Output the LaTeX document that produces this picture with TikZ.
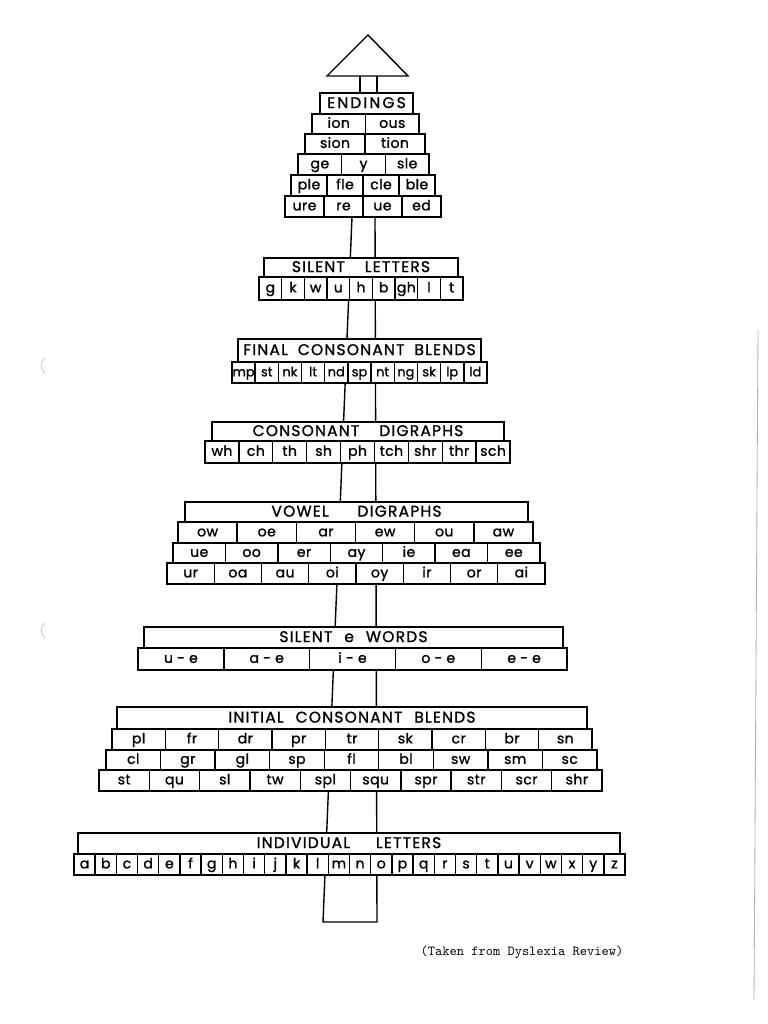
\documentclass[tikz,border=0pt]{standalone}
\usepackage{fontspec}
\setmainfont{Poppins}[LetterSpace=3, FakeBold=1.2]
\newfontfamily\capsfont{Poppins}[LetterSpace=8, FakeBold=1.2]
\usepackage{tikz}
\usetikzlibrary{calc}

\tikzset{
  brick/.style={draw=black, fill=white, line width=1pt, inner sep=0pt,
    text height=0.75em, text depth=0.2em, font=\fontsize{10}{11}\selectfont},
  banner/.style={draw=black, fill=white, line width=1pt, inner sep=0pt,
    text height=0.75em, text depth=0.1em, font=\capsfont\fontsize{11}{12}\selectfont},
  trunk/.style={black, line width=1pt},
}

% one row of bricks: name, left, right, top, bottom, number of bricks, words
\newcommand{\brickrow}[7]{%
  \pgfmathsetmacro\bw{(#3-#2)/#6}
  \foreach \word [count=\i] in {#7}
    \node[brick, minimum width=\bw*0.025cm, minimum height=(#5-#4)*0.025cm]
      (#1-\i) at ({#2+(\i-0.5)*\bw}, {(#4+#5)/2}) {\word};
}
% one heading board: name, left, right, top, bottom, text
\newcommand{\board}[6]{%
  \node[banner, minimum width=(#3-#2)*0.025cm, minimum height=(#5-#4)*0.025cm]
    (#1) at ({(#2+#3)/2}, {(#4+#5)/2}) {#6};
}

\begin{document}
\begin{tikzpicture}[x={(0.025cm,0)}, y={(0,-0.025cm)}]

\useasboundingbox (0,0) rectangle (768,1024);

% TOP
  \draw[trunk] (327,76) -- (368,35) -- (408,76) -- cycle;
  \draw[trunk] (360,76) -- (360,93);
  \draw[trunk] (377,76) -- (377,93);

% TRUNK (behind the boards)
  \draw[trunk] (352,217) -- (323,922) -- (377,922) -- (375,217);

% Endings
  \board{endings}{320}{413}{93}{114}{\addfontfeatures{LetterSpace=14}ENDINGS}
  \brickrow{end-a}{312}{419}{114}{134}{2}{ion,ous}
  \brickrow{end-b}{305}{425}{134}{154}{2}{sion,tion}
  \brickrow{end-c}{298}{429}{154}{175}{3}{ge,y,sle}
  \brickrow{end-d}{291}{435}{175}{196}{4}{ple,fle,cle,ble}
  \brickrow{end-e}{285}{441}{196}{217}{4}{ure,re,ue,ed}

% Silent letters
  \board{silent}{264}{458}{258}{277}{SILENT\hspace{0.5cm}LETTERS}
  \brickrow{sil}{259}{463}{277}{300}{9}{g,k,w,u,h,b,gh,l,t}

% Final consonant blends
  \board{final}{238}{481}{339}{362}{FINAL\hspace{0.25cm}CONSONANT\hspace{0.25cm}BLENDS}
  \begin{scope}[brick/.append style={font=\addfontfeatures{LetterSpace=0}\fontsize{9.2}{10}\selectfont}]
  \brickrow{fin}{232}{487}{362}{383}{11}{mp,st,nk,lt,nd,sp,nt,ng,sk,lp,ld}
  \end{scope}

% Consonant digraphs
  \board{cdig}{212}{504}{422}{441}{CONSONANT\hspace{0.5cm}DIGRAPHS}
  \brickrow{cdg}{205}{510}{441}{463}{9}{wh,ch,th,sh,ph,tch,shr,thr,sch}

% Vowel digraphs
  \board{vdig}{185}{528}{502}{522}{VOWEL\hspace{0.72cm}DIGRAPHS}
  \brickrow{vow-a}{178}{533}{522}{543}{6}{ow,oe,ar,ew,ou,aw}
  \brickrow{vow-b}{173}{540}{543}{563}{7}{ue,oo,er,ay,ie,ea,ee}
  \brickrow{vow-c}{167}{545}{563}{584}{8}{ur,oa,au,oi,oy,ir,or,ai}

% Silent e words
  \board{silente}{144}{563}{627}{648}{SILENT\hspace{0.3cm}e\hspace{0.3cm}WORDS}
  \brickrow{sle}{138}{567}{648}{670}{5}{u - e,a - e,i - e,o - e,e - e}

% Initial consonant blends
  \board{initial}{117}{587}{707}{729}{INITIAL\hspace{0.3cm}CONSONANT\hspace{0.3cm}BLENDS}
  \brickrow{ini-a}{112}{592}{729}{750}{9}{pl,fr,dr,pr,tr,sk,cr,br,sn}
  \brickrow{ini-b}{106}{597}{750}{770}{9}{cl,gr,gl,sp,fl,bl,sw,sm,sc}
  \brickrow{ini-c}{99}{602}{770}{791}{10}{st,qu,sl,tw,spl,squ,spr,str,scr,shr}

% Individual letters
  \board{letters}{78}{620}{833}{854}{INDIVIDUAL\hspace{0.65cm}LETTERS}
  \brickrow{let}{74}{625}{854}{875}{26}{a,b,c,d,e,f,g,h,i,j,k,l,m,n,o,p,q,r,s,t,u,v,w,x,y,z}

% source
  \node[font=\ttfamily\fontsize{9.8}{10}\selectfont] (source) at (522,952) {(Taken from Dyslexia Review)};

% scan marks
  \draw[gray!45, line width=0.6pt] (45,373) arc (125:235:9);
  \draw[gray!45, line width=0.6pt] (45,638) arc (125:235:9);
  \draw[gray!60, line width=0.6pt] (758,330) -- (754,1000);

\end{tikzpicture}
\end{document}
